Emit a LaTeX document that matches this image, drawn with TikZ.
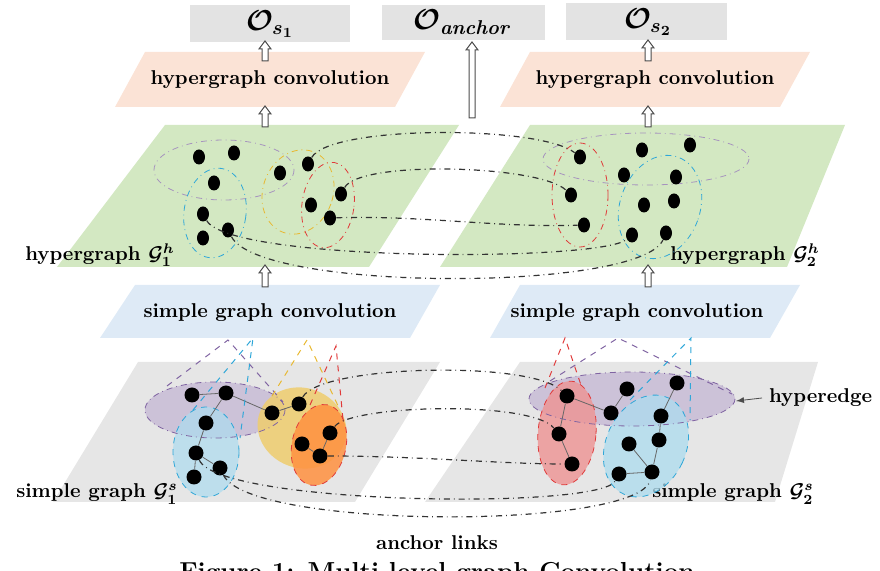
\documentclass[tikz,border=0pt]{standalone}
\usepackage{amsmath}
\usepackage{amssymb}
\usetikzlibrary{shapes.geometric}
\definecolor{boxgray}{HTML}{E3E3E3}
\definecolor{peach}{HTML}{FBE3D6}
\definecolor{leaf}{HTML}{D3E8C2}
\definecolor{sky}{HTML}{DEEAF6}
\definecolor{plate}{HTML}{E6E6E6}
\definecolor{hpurple}{HTML}{8064A2}
\definecolor{hblue}{HTML}{2FA7D8}
\definecolor{hyellow}{HTML}{E8B830}
\definecolor{hred}{HTML}{E03A3A}
\tikzset{
  dot/.style={circle,fill=black,inner sep=0pt,minimum size=7.5pt},
  hdot/.style={ellipse,fill=black,inner sep=0pt,minimum width=6pt,minimum height=7.5pt},
  link/.style={black!80,dash dot,line width=0.6pt},
  edge/.style={black!60,line width=0.4pt},
  cone/.style={dashed,line width=0.5pt},
  lbl/.style={font=\bfseries\boldmath\fontsize{10}{12}\selectfont},
  outlbl/.style={font=\bfseries\boldmath\fontsize{14}{16}\selectfont},
  hollow/.style={draw=black!70,fill=white,line width=0.5pt}
}
\newcommand{\hollowup}[3]{% x, bottom y, top y
  \draw[hollow] (#1-3,#2) -- (#1-3,#3+8) -- (#1-6,#3+8) -- (#1,#3)
    -- (#1+6,#3+8) -- (#1+3,#3+8) -- (#1+3,#2) -- cycle;}
\begin{document}
\begin{tikzpicture}[x=0.5pt,y=-0.5pt]
\useasboundingbox (0,0) rectangle (880,571);
% output boxes
\fill[boxgray] (190,5) rectangle (350,42);
\node[outlbl] (os1) at (270,24) {$\mathcal{O}_{s_1}$};
\fill[boxgray] (382,5) rectangle (545,40);
\node[outlbl] (oanc) at (463,22) {$\mathcal{O}_{\mathit{anchor}}$};
\fill[boxgray] (566,3) rectangle (727,40);
\node[outlbl] (os2) at (648,22) {$\mathcal{O}_{s_2}$};
% hypergraph convolution layers
\fill[peach] (145,52) -- (425,52) -- (395,107) -- (115,107) -- cycle;
\node[lbl] (hc1) at (270,80) {hypergraph convolution};
\fill[peach] (530,52) -- (810,52) -- (780,107) -- (500,107) -- cycle;
\node[lbl] (hc2) at (655,80) {hypergraph convolution};
% hypergraph planes
\fill[leaf] (165,125) -- (459,125) -- (369,267) -- (57,267) -- cycle;
\fill[leaf] (530,125) -- (845,125) -- (787,267) -- (440,267) -- cycle;
\node[lbl] (hg1) at (100,255) {hypergraph $\mathcal{G}_1^h$};
\node[lbl] (hg2) at (745,255) {hypergraph $\mathcal{G}_2^h$};
% simple graph convolution layers
\fill[sky] (135,285) -- (440,285) -- (410,338) -- (100,338) -- cycle;
\node[lbl] (sc1) at (270,313) {simple graph convolution};
\fill[sky] (520,285) -- (800,285) -- (770,338) -- (490,338) -- cycle;
\node[lbl] (sc2) at (637,313) {simple graph convolution};
% simple graph planes
\fill[plate] (138,362) -- (440,362) -- (355,502) -- (53,502) -- cycle;
\fill[plate] (520,362) -- (818,362) -- (775,502) -- (425,502) -- cycle;
\node[lbl] (sg1) at (97,494) {simple graph $\mathcal{G}_1^s$};
\node[lbl] (sg2) at (733,494) {simple graph $\mathcal{G}_2^s$};
% hollow arrows
\hollowup{265}{127}{106}
\hollowup{265}{61}{41}
\hollowup{472}{118}{42}
\hollowup{648}{127}{106}
\hollowup{648}{61}{40}
\hollowup{265}{287}{265}
\hollowup{648}{287}{265}

% hyperedges, left hypergraph
\draw[hpurple!70,dash dot] (224,170) ellipse [x radius=70,y radius=30];
\draw[hblue,dash dot] (215,213) ellipse [x radius=31,y radius=45,rotate=-8];
\draw[hyellow,dash dot] (298,192) ellipse [x radius=35,y radius=43,rotate=-20];
\draw[hred,dash dot] (328,205) ellipse [x radius=26,y radius=43,rotate=-8];
% hyperedges, right hypergraph
\draw[hpurple!70,dash dot] (646,159) ellipse [x radius=103,y radius=26];
\draw[hred,dash dot] (580,195) ellipse [x radius=28,y radius=52];
\draw[hblue,dash dot] (660,207) ellipse [x radius=40,y radius=53,rotate=-20];
% hypergraph nodes
\foreach \n/\x/\y in {h1/199/157,h2/234/153,h3/214/183,h4/280/173,h5/308/164,
  h6/341/194,h7/311/205,h8/330/218,h9/203/214,h10/228/230,h11/203/238,
  k1/580/157,k2/642/150,k3/690/145,k4/624/175,k5/676/177,k6/571/195,
  k7/644/205,k8/674/201,k9/584/225,k10/632/235,k11/666/233}
  \node[hdot] (\n) at (\x,\y) {};

% hyperedges, left simple graph
\fill[hpurple!45,opacity=0.8] (215,410) ellipse [x radius=70,y radius=28];
\fill[hyellow!70,opacity=0.85] (302,428) ellipse [x radius=45,y radius=40,rotate=-20];
\fill[hblue!40,opacity=0.7] (206,452) ellipse [x radius=33,y radius=45];
\fill[orange!85!red!75,opacity=0.85] (319,445) ellipse [x radius=27,y radius=41,rotate=-12];
\draw[hpurple,dash dot] (215,410) ellipse [x radius=70,y radius=28];
\draw[hblue,dashed] (206,452) ellipse [x radius=33,y radius=45];
\draw[hred,dashed] (319,445) ellipse [x radius=27,y radius=41,rotate=-12];
% hyperedges, right simple graph
\fill[hpurple!45,opacity=0.8] (632,399) ellipse [x radius=103,y radius=27];
\fill[hred!55,opacity=0.8] (567,433) ellipse [x radius=29,y radius=52,rotate=-5];
\fill[hblue!40,opacity=0.75] (646,446) ellipse [x radius=40,y radius=53,rotate=-25];
\draw[hpurple,dash dot] (632,399) ellipse [x radius=103,y radius=27];
\draw[hred,dashed] (567,433) ellipse [x radius=29,y radius=52,rotate=-5];
\draw[hblue,dashed] (646,446) ellipse [x radius=40,y radius=53,rotate=-25];
% simple graph nodes
\foreach \n/\x/\y in {a1/192/395,a2/226/393,a3/272/413,a4/299/404,a5/206/423,
  a6/196/453,a7/194/477,a8/220/468,a9/330/433,a10/302/444,a11/320/456,
  b1/567/396,b2/627/389,b3/677/383,b4/611/413,b5/661/416,b6/559/434,
  b7/659/440,b8/629/444,b9/572/464,b10/652/472,b11/619/474}
  \node[dot] (\n) at (\x,\y) {};
\foreach \u/\v in {a1/a2,a2/a5,a2/a3,a3/a4,a5/a6,a6/a7,a6/a8,a9/a11,a10/a11,
  b1/b4,b4/b2,b1/b6,b6/b9,b3/b5,b5/b7,b7/b10,b8/b10,b10/b11}
  \draw[edge] (\u) -- (\v);

% cones from the simple graph convolution
\coordinate (pa) at (228,340);
\coordinate (pb) at (253,338);
\coordinate (py) at (307,340);
\coordinate (pr) at (336,346);
\draw[cone,hpurple] (167,386) -- (pa) -- (283,402);
\draw[cone,hblue] (193,410) -- (pb) -- (240,438);
\draw[cone,hyellow] (272,396) -- (py) -- (340,410);
\draw[cone,hred] (310,405) -- (pr) -- (343,420);
\coordinate (qr) at (565,338);
\coordinate (qa) at (618,338);
\coordinate (qb) at (691,338);
\draw[cone,hred] (545,388) -- (qr) -- (582,388);
\draw[cone,hpurple] (550,381) -- (qa) -- (732,394);
\draw[cone,hblue] (630,400) -- (qb) -- (690,420);

% anchor links
\draw[link] (h5) .. controls (330,125) and (540,125) .. (k1);
\draw[link] (h6) .. controls (360,160) and (540,165) .. (k6);
\draw[link] (h8) .. controls (420,215) and (500,228) .. (k9);
\draw[link] (h9) .. controls (230,262) and (600,262) .. (k10);
\draw[link] (h10) .. controls (260,292) and (640,292) .. (k11);
\draw[link] (a4) .. controls (320,365) and (530,360) .. (b1);
\draw[link] (a9) .. controls (350,405) and (530,400) .. (b6);
\draw[link] (a11) .. controls (420,456) and (500,464) .. (b9);
\draw[link] (a6) .. controls (220,505) and (600,510) .. (b11);
\draw[link] (a8) .. controls (250,530) and (640,530) .. (b10);

% annotations
\node[lbl,anchor=west] (hyp) at (762,398) {hyperedge};
\draw[-latex,black!70] (hyp.west) -- (736,401);
\node[lbl] (anc) at (437,543) {anchor links};
\node[font=\bfseries\fontsize{13}{15}\selectfont] (cap) at (437,574) {Figure 1: Multi-level graph Convolution};
\end{tikzpicture}
\end{document}
